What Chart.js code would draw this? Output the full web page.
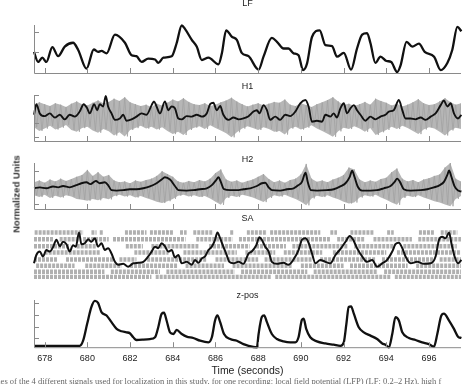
<!DOCTYPE html>
<html><head><meta charset="utf-8">
<script src="https://cdn.jsdelivr.net/npm/chart.js@4/dist/chart.umd.min.js"></script>
<style>
html,body{margin:0;padding:0;background:#fff;}
body{width:474px;height:384px;overflow:hidden;position:relative;font-family:"Liberation Sans",Arial,sans-serif;}
canvas{position:absolute;left:0;}
#ylab{position:absolute;left:16px;top:194px;transform:translate(-50%,-50%) rotate(-90deg);font-size:9.5px;font-weight:bold;color:#333;white-space:nowrap;}
#caption{position:absolute;left:-6px;top:376px;font-family:"Liberation Serif",serif;font-size:8.5px;color:#666;white-space:nowrap;}
</style>
</head><body>
<canvas id="cLF" width="474" height="76" style="top:0px"></canvas>
<canvas id="cH1" width="474" height="65" style="top:79px"></canvas>
<canvas id="cH2" width="474" height="60" style="top:152px"></canvas>
<canvas id="cSA" width="474" height="70" style="top:212px"></canvas>
<canvas id="cZ" width="474" height="96" style="top:288px"></canvas>
<div id="ylab">Normalized Units</div>
<div id="caption">ples of the 4 different signals used for localization in this study, for one recording: local field potential (LFP) (LF: 0.2–2 Hz), high f</div>
<script>
// ---------- DATA ----------
const panelTitles = ['LF','H1','H2','SA','z-pos'];
const xTickValues = [678,680,682,684,686,688,690,692,694,696];
const xLabel = 'Time (seconds)';

const lfTime = [677.50,677.69,677.89,678.08,678.36,678.63,678.94,679.33,679.57,679.96,680.30,680.50,680.66,680.90,681.29,681.76,682.07,682.30,682.54,682.85,683.17,683.32,683.56,683.95,684.18,684.42,684.57,684.89,685.12,685.36,685.67,686.14,686.30,686.50,686.76,687.00,687.23,687.55,688.02,688.25,688.64,688.88,689.19,689.42,689.66,689.89,690.10,690.29,690.52,690.88,691.15,691.46,691.69,692.01,692.35,692.63,692.87,693.10,693.26,693.49,693.73,694.01,694.23,694.51,694.67,694.95,695.22,695.53,695.80,696.24,696.55,696.86,697.09,697.33,697.52];
const lfVal  = [0.44,0.23,0.32,0.23,0.54,0.35,0.55,0.63,0.48,0.09,0.49,0.44,0.46,0.41,0.80,0.63,0.37,0.35,0.23,0.30,0.28,0.21,0.32,0.35,0.62,0.99,0.92,0.69,0.55,0.27,0.32,0.18,0.41,0.89,0.76,0.69,0.42,0.35,0.07,0.34,0.73,0.65,0.51,0.51,0.41,0.37,0.06,0.20,0.75,0.89,0.58,0.56,0.34,0.42,0.07,0.51,0.80,0.83,0.62,0.21,0.34,0.25,0.23,0.02,0.16,0.65,0.55,0.61,0.44,0.34,0.06,0.21,0.48,0.96,0.87];
const lfYTicks = [0.44,0.85];

const h1Time = [677.50,677.61,677.77,678.00,678.24,678.47,678.71,678.94,679.17,679.41,679.64,679.83,679.99,680.11,680.32,680.46,680.58,680.74,680.86,680.97,681.13,681.29,681.52,681.68,681.83,682.07,682.30,682.54,682.77,683.01,683.12,683.24,683.40,683.63,683.79,683.95,684.10,684.26,684.42,684.65,684.89,685.12,685.36,685.59,685.75,685.90,686.06,686.22,686.37,686.61,686.84,687.08,687.31,687.55,687.78,687.94,688.06,688.25,688.41,688.56,688.80,689.03,689.27,689.50,689.74,689.97,690.21,690.36,690.52,690.75,690.99,691.15,691.38,691.54,691.69,691.85,692.01,692.16,692.32,692.48,692.63,692.79,693.02,693.26,693.49,693.73,693.96,694.12,694.35,694.59,694.75,694.90,695.14,695.37,695.61,695.84,696.08,696.31,696.55,696.70,696.86,697.02,697.17,697.36,697.52];
const h1Val  = [0.57,0.80,0.60,0.54,0.60,0.51,0.57,0.47,0.57,0.53,0.64,0.80,0.71,0.60,0.80,0.67,0.80,0.75,0.98,0.75,0.60,0.46,0.49,0.57,0.44,0.47,0.53,0.60,0.57,0.78,0.86,0.75,0.60,0.86,0.67,0.75,0.71,0.49,0.47,0.54,0.53,0.57,0.53,0.60,0.80,0.83,0.67,0.76,0.57,0.46,0.51,0.47,0.49,0.54,0.64,0.67,0.60,0.78,0.67,0.46,0.53,0.46,0.57,0.54,0.64,0.82,0.89,0.75,0.42,0.44,0.42,0.57,0.53,0.60,0.51,0.71,0.82,0.60,0.71,0.78,0.67,0.57,0.44,0.53,0.47,0.53,0.57,0.64,0.67,0.89,0.67,0.49,0.49,0.47,0.51,0.46,0.53,0.60,0.78,0.88,0.75,0.82,0.60,0.49,0.57];
const h1NoiseHigh = [0.78,0.84,0.80,0.76,0.82,0.79,0.74,0.81,0.86,
 0.80,0.77,0.83,0.88,0.82,0.85,0.92,0.87,0.95,
 0.84,0.80,0.76,0.79,0.74,0.81,0.77,0.83,0.90,
 0.86,0.93,0.85,0.80,0.78,0.82,0.76,0.79,0.84,
 0.88,0.94,0.86,0.80,0.75,0.79,0.82,0.77,0.81,
 0.85,0.83,0.90,0.79,0.76,0.82,0.78,0.74,0.80,
 0.84,0.89,0.95,0.86,0.78,0.81,0.76,0.80,0.85,
 0.79,0.92,0.87,0.83,0.77,0.81,0.75,0.79,0.84,
 0.91,0.82,0.78,0.80,0.86,0.93,0.85,0.79,0.82];
const h1NoiseLow = [0.30,0.22,0.27,0.33,0.25,0.29,0.35,0.24,0.20,
 0.28,0.31,0.23,0.18,0.26,0.21,0.12,0.19,0.10,
 0.24,0.28,0.33,0.27,0.31,0.25,0.30,0.22,0.15,
 0.20,0.13,0.24,0.29,0.32,0.26,0.34,0.28,0.23,
 0.17,0.08,0.19,0.27,0.32,0.28,0.24,0.30,0.26,
 0.20,0.22,0.14,0.27,0.31,0.25,0.29,0.34,0.27,
 0.22,0.16,0.09,0.21,0.29,0.26,0.32,0.27,0.20,
 0.28,0.13,0.19,0.24,0.31,0.26,0.33,0.28,0.22,
 0.15,0.25,0.30,0.27,0.20,0.12,0.23,0.29,0.26];
const h1YTicks = [0.09,0.39,1.0];

const h2Time = [677.50,677.77,678.08,678.39,678.63,678.86,679.17,679.49,679.72,679.96,680.14,680.40,680.58,680.82,680.97,681.13,681.37,681.68,681.99,682.30,682.62,682.93,683.24,683.48,683.63,683.87,684.10,684.26,684.65,684.96,685.28,685.59,685.83,686.03,686.14,686.25,686.40,686.69,687.00,687.31,687.63,687.94,688.17,688.33,688.49,688.64,689.03,689.35,689.66,689.89,690.05,690.16,690.22,690.32,690.47,690.76,691.22,691.54,691.85,692.09,692.29,692.40,692.51,692.66,692.87,693.26,693.57,693.88,694.20,694.39,694.51,694.64,694.82,695.14,695.61,695.92,696.23,696.51,696.70,696.86,696.94,697.05,697.20,697.36,697.52];
const h2Val  = [0.45,0.47,0.45,0.49,0.47,0.50,0.47,0.52,0.56,0.58,0.54,0.61,0.56,0.58,0.52,0.41,0.40,0.41,0.43,0.43,0.45,0.49,0.56,0.64,0.69,0.64,0.50,0.41,0.40,0.41,0.43,0.45,0.52,0.63,0.69,0.59,0.43,0.41,0.41,0.43,0.45,0.50,0.56,0.57,0.47,0.41,0.40,0.43,0.45,0.52,0.59,0.74,0.79,0.59,0.41,0.40,0.41,0.43,0.49,0.56,0.70,0.83,0.70,0.49,0.40,0.40,0.41,0.45,0.50,0.59,0.66,0.59,0.43,0.40,0.41,0.43,0.47,0.52,0.59,0.74,0.84,0.70,0.49,0.40,0.38];
const h2NoiseHigh = [0.58,0.62,0.57,0.64,0.60,0.66,0.61,0.65,0.70,
 0.74,0.85,0.72,0.80,0.70,0.74,0.62,0.58,0.60,
 0.56,0.62,0.59,0.63,0.66,0.72,0.82,0.76,0.70,
 0.60,0.57,0.61,0.58,0.63,0.60,0.66,0.78,0.86,
 0.64,0.59,0.62,0.57,0.61,0.64,0.70,0.76,0.65,
 0.58,0.62,0.57,0.63,0.66,0.75,0.98,0.66,0.59,
 0.62,0.58,0.64,0.68,0.74,0.90,0.86,0.64,0.58,
 0.62,0.59,0.65,0.68,0.80,0.88,0.66,0.60,0.63,
 0.58,0.64,0.67,0.72,0.75,0.90,1.00,0.66,0.60];
const h2NoiseLow = [0.30,0.26,0.31,0.24,0.29,0.25,0.30,0.27,0.22,
 0.20,0.18,0.22,0.19,0.24,0.21,0.28,0.31,0.27,
 0.30,0.25,0.28,0.24,0.20,0.16,0.13,0.17,0.22,
 0.29,0.31,0.27,0.30,0.26,0.28,0.23,0.16,0.09,
 0.24,0.29,0.26,0.31,0.28,0.25,0.20,0.15,0.24,
 0.30,0.27,0.31,0.26,0.22,0.16,0.08,0.23,0.29,
 0.26,0.30,0.25,0.21,0.16,0.12,0.14,0.25,0.30,
 0.27,0.31,0.25,0.20,0.14,0.09,0.24,0.29,0.26,
 0.30,0.25,0.21,0.17,0.14,0.10,0.06,0.22,0.28];
const h2YTicks = [0.11,0.83];

const saTime = [677.50,677.61,677.77,677.92,678.08,678.24,678.39,678.55,678.71,678.86,679.02,679.17,679.33,679.46,679.61,679.72,679.88,680.04,680.19,680.35,680.50,680.66,680.82,680.97,681.13,681.29,681.44,681.68,681.91,682.15,682.38,682.62,682.85,683.01,683.17,683.32,683.48,683.63,683.79,683.95,684.10,684.26,684.42,684.65,684.89,685.04,685.20,685.36,685.51,685.67,685.83,685.98,686.09,686.22,686.34,686.50,686.65,686.84,687.08,687.31,687.55,687.70,687.91,688.06,688.17,688.33,688.49,688.64,688.88,689.19,689.42,689.74,689.89,690.05,690.21,690.36,690.52,690.68,690.91,691.15,691.38,691.62,691.85,692.09,692.29,692.45,692.63,692.87,693.10,693.34,693.57,693.81,694.04,694.28,694.43,694.59,694.75,694.90,695.14,695.45,695.76,696.08,696.31,696.47,696.62,696.78,696.94,697.05,697.20,697.36,697.52];
const saVal  = [0.32,0.49,0.56,0.46,0.59,0.56,0.65,0.80,0.67,0.76,0.71,0.56,0.69,0.66,0.95,0.71,0.73,0.81,0.76,0.83,0.66,0.73,0.59,0.63,0.52,0.35,0.29,0.31,0.25,0.32,0.33,0.35,0.46,0.56,0.66,0.63,0.73,0.67,0.56,0.59,0.44,0.49,0.32,0.35,0.29,0.39,0.33,0.42,0.46,0.59,0.66,0.80,0.95,0.83,0.69,0.52,0.35,0.32,0.35,0.31,0.52,0.56,0.69,0.85,0.80,0.66,0.56,0.35,0.31,0.33,0.29,0.46,0.59,0.80,0.83,0.74,0.52,0.32,0.39,0.35,0.32,0.49,0.61,0.76,0.88,0.80,0.63,0.46,0.35,0.39,0.25,0.32,0.39,0.56,0.71,0.74,0.63,0.46,0.32,0.35,0.31,0.32,0.46,0.80,0.86,0.83,0.95,0.73,0.46,0.32,0.39];
const saRowLevels = [0.95,0.81,0.67,0.54,0.40,0.27,0.15,0.04];
const saRowSpans = [
 [[677.53,679.80],[680.19,680.43],[680.58,680.74],[681.76,682.77],[682.93,684.03],[684.34,684.65],[684.96,685.90],[686.69,686.84],[687.47,688.41],[688.56,690.91],[691.38,691.69],[692.32,693.42],[694.04,694.35],[695.53,696.23],[696.55,697.33]],
 [[677.5,678.4],[678.7,679.6],[679.8,681.0],[681.2,684.6],[685.1,686.8],[687.1,691.4],[691.7,693.0],[693.4,695.2],[695.5,697.5]],
 [[677.5,679.2],[679.5,680.4],[681.8,682.6],[683.0,685.2],[685.7,687.6],[687.9,689.3],[689.6,692.2],[692.5,694.4],[694.8,697.3]],
 [[678.0,680.6],[682.2,683.8],[684.5,687.0],[687.4,688.8],[689.2,691.0],[691.5,694.0],[694.5,697.5]],
 [[677.5,678.6],[679.0,681.2],[681.5,682.3],[682.8,685.6],[686.0,688.0],[688.3,690.5],[690.9,693.5],[693.8,696.2],[696.5,697.5]],
 [[677.6,679.4],[679.9,681.6],[682.0,684.2],[684.6,686.4],[686.8,689.6],[690.0,692.0],[692.3,695.0],[695.4,697.5]],
 [[677.5,680.8],[681.1,683.4],[683.7,686.9],[687.2,690.3],[690.6,693.6],[693.9,697.5]],
 [[677.5,683.0],[683.2,688.6],[688.8,694.2],[694.4,697.5]]
];

const zTime = [677.50,679.64,679.80,679.99,680.19,680.35,680.50,680.66,680.90,681.13,681.37,681.60,681.83,681.99,682.15,682.30,682.62,682.93,683.17,683.32,683.48,683.59,683.71,683.87,684.03,684.18,684.42,684.65,684.96,685.28,685.67,685.83,685.98,686.09,686.22,686.40,686.69,687.00,687.31,687.55,687.94,688.02,688.17,688.28,688.41,688.64,688.88,689.19,689.50,689.74,689.89,690.05,690.13,690.25,690.44,690.75,691.15,691.54,691.85,692.01,692.13,692.24,692.35,692.48,692.71,692.95,693.26,693.57,693.81,693.96,694.12,694.28,694.43,694.59,694.75,695.06,695.37,695.68,695.99,696.23,696.39,696.58,696.70,696.94,697.17,697.36,697.52];
const zVal  = [0.37,0.37,0.80,2.23,3.66,4.17,4.00,3.23,2.94,2.37,1.80,1.60,1.51,1.43,1.09,0.86,0.89,0.94,1.09,1.94,3.09,3.17,2.51,1.51,1.37,1.71,1.37,1.14,1.03,0.80,0.66,1.09,2.51,2.94,2.37,1.37,0.94,0.80,0.51,0.37,0.23,1.37,2.80,2.94,2.37,1.37,0.94,0.74,0.66,0.66,1.09,2.57,2.66,1.80,1.09,0.74,0.57,0.46,0.37,0.66,2.20,3.66,3.71,3.09,1.94,1.51,1.23,0.94,0.57,0.46,0.23,1.37,2.80,2.51,1.51,1.03,0.86,0.66,0.51,0.29,1.37,2.94,3.09,2.51,1.80,1.14,1.03];
const zYTicks = [1,2,3,4];

// ---------- STYLE ----------
const X_MIN = 677.5, X_MAX = 697.5;
const BLACK = '#111111', GRAY = '#a2a2a2', GRAY_LIGHT = '#b6b6b6', RASTER = '#b0b0b0', AXIS = '#8a8a8a';
const FONT = '"Liberation Sans", Arial, sans-serif';

const pts = (t, v) => t.map((x, i) => ({x, y: v[i]}));
const grid = (v) => v.map((y, i) => ({x: X_MIN + i * (X_MAX - X_MIN) / (v.length - 1), y}));
// raw-looking trace swinging between the typed upper and lower envelope values
const swing = (hi, lo) => {
  const step = (X_MAX - X_MIN) / (hi.length - 1), out = [];
  hi.forEach((h, i) => { const t = X_MIN + i * step; out.push({x: t, y: h}); if (i < hi.length - 1) out.push({x: t + step / 2, y: lo[i]}); });
  return out;
};

const panelPlugin = {
  id: 'panel',
  afterDatasetsDraw(chart, args, o) {
    const {ctx, chartArea: a, scales: {x, y}} = chart;
    ctx.save();
    if (o.axes) {
      ctx.strokeStyle = AXIS; ctx.lineWidth = 1;
      ctx.beginPath();
      ctx.moveTo(a.left + 0.5, a.top); ctx.lineTo(a.left + 0.5, a.bottom + 0.5); ctx.lineTo(a.right, a.bottom + 0.5);
      (o.yTicks || []).forEach(v => { const p = Math.round(y.getPixelForValue(v)) + 0.5; ctx.moveTo(a.left, p); ctx.lineTo(a.left + 5, p); });
      xTickValues.forEach(v => { const p = Math.round(x.getPixelForValue(v)) + 0.5; ctx.moveTo(p, a.bottom); ctx.lineTo(p, a.bottom - 5); });
      ctx.stroke();
    }
    ctx.fillStyle = '#222';
    ctx.font = '9px ' + FONT;
    ctx.textAlign = 'center'; ctx.textBaseline = 'middle';
    ctx.fillText(o.title, (a.left + a.right) / 2, o.titleY);
    if (o.xTitle) {
      ctx.font = '10.5px ' + FONT;
      ctx.fillText(o.xTitle, (a.left + a.right) / 2, o.xTitleY);
    }
    ctx.restore();
  }
};

function line(data, w, color) {
  return {data, borderColor: color || BLACK, borderWidth: w, pointRadius: 0, fill: false,
          cubicInterpolationMode: 'monotone', clip: 3};
}
function noiseSets(hi, lo) {
  return [
    {data: swing(hi, lo), borderColor: GRAY, borderWidth: 0.8, pointRadius: 0, fill: false, tension: 0},
    {data: grid(hi), borderWidth: 0, pointRadius: 0, fill: false, tension: 0},
    {data: grid(lo), borderWidth: 0, pointRadius: 0, fill: '-1', backgroundColor: GRAY_LIGHT, tension: 0}
  ];
}

function makePanel(id, datasets, opt) {
  const lastPanel = !!opt.xAxis;
  return new Chart(document.getElementById(id), {
    type: 'line',
    data: {datasets},
    plugins: [panelPlugin],
    options: {
      responsive: false, animation: false, devicePixelRatio: 1,
      layout: {padding: {left: 34, right: 13, top: opt.padTop, bottom: opt.padBottom}},
      plugins: {legend: {display: false}, tooltip: {enabled: false},
        panel: {title: opt.title, titleY: opt.titleY, axes: opt.axes, yTicks: opt.yTicks,
                xTitle: lastPanel ? xLabel : null, xTitleY: opt.xTitleY}},
      scales: {
        x: {type: 'linear', min: X_MIN, max: X_MAX, display: lastPanel,
            grid: {display: false, drawTicks: false}, border: {display: false},
            afterBuildTicks: s => { s.ticks = xTickValues.map(v => ({value: v})); },
            ticks: {padding: 6, color: '#222', maxRotation: 0, autoSkip: false,
                    font: {size: 9, family: FONT}}},
        y: {type: 'linear', min: opt.yMin, max: opt.yMax, display: false}
      }
    }
  });
}

// LF
makePanel('cLF', [line(pts(lfTime, lfVal), 2.3)],
  {title: panelTitles[0], titleY: 4, padTop: 25, padBottom: 3, yMin: 0, yMax: 1, axes: true, yTicks: lfYTicks});

// H1
makePanel('cH1', [line(pts(h1Time, h1Val), 1.9)].concat(noiseSets(h1NoiseHigh, h1NoiseLow)),
  {title: panelTitles[1], titleY: 8, padTop: 16, padBottom: 3, yMin: 0, yMax: 1, axes: true, yTicks: h1YTicks});

// H2
makePanel('cH2', [line(pts(h2Time, h2Val), 1.9)].concat(noiseSets(h2NoiseHigh, h2NoiseLow)),
  {title: panelTitles[2], titleY: 8, padTop: 11, padBottom: 3, yMin: 0, yMax: 1, axes: true, yTicks: h2YTicks});

// SA
const saRows = saRowSpans.map((spans, r) => {
  const data = [];
  spans.forEach(([s, e]) => { data.push({x: s, y: saRowLevels[r]}, {x: e, y: saRowLevels[r]}, {x: e, y: null}); });
  return {data, borderColor: RASTER, borderWidth: 4.5, pointRadius: 0, fill: false, tension: 0,
          borderCapStyle: 'butt', borderDash: [3, 1], spanGaps: false};
});
makePanel('cSA', [line(pts(saTime, saVal), 2)].concat(saRows),
  {title: panelTitles[3], titleY: 7, padTop: 18, padBottom: 3, yMin: 0, yMax: 1, axes: false, yTicks: []});

// z-pos
makePanel('cZ', [line(pts(zTime, zVal), 2.3)],
  {title: panelTitles[4], titleY: 8, padTop: 12, padBottom: 14, yMin: 0.25, yMax: 4.25, axes: true, yTicks: zYTicks,
   xAxis: true, xTitleY: 83});
</script>
</body></html>
